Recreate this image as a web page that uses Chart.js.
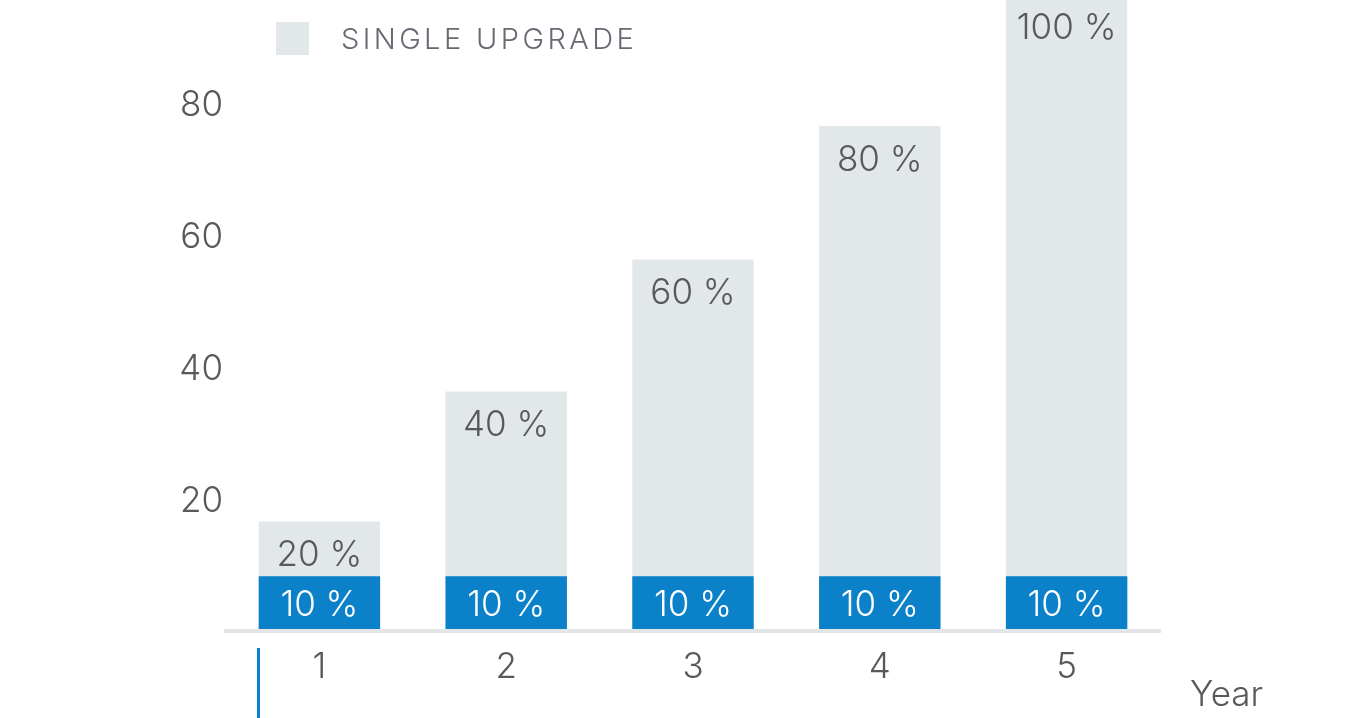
<!DOCTYPE html>
<html>
<head>
<meta charset="utf-8">
<script src="https://cdn.jsdelivr.net/npm/chart.js@4.4.1/dist/chart.umd.min.js"></script>
<style>
  html, body { margin: 0; padding: 0; background: #fff; overflow: hidden; }
  body { width: 1368px; height: 718px; position: relative; font-family: Inter, sans-serif; }
  /* canvas runs a bit above the window: the top of the last bar is cut off in the original */
  #wrap { position: absolute; left: 0; top: -60px; width: 1368px; height: 778px; }
  #legend { position: absolute; left: 276px; top: 22px; margin: 0; padding: 0; list-style: none; }
  #legend li { display: flex; align-items: center; height: 33px; }
  #legend .box { width: 33px; height: 33px; margin-right: 32px; }
  #legend .txt { font-size: 29px; font-weight: 300; letter-spacing: 3.4px; color: #666a72; }
</style>
</head>
<body>
<div id="wrap"><canvas id="myChart"></canvas></div>
<ul id="legend"></ul>
<script>
const years = ["1", "2", "3", "4", "5"];
const baseValues = [8.3, 8.3, 8.3, 8.3, 8.3];
const upgradeValues = [16.6, 36.3, 56.3, 76.5, 96.5];
const baseLabels = ["10 %", "10 %", "10 %", "10 %", "10 %"];
const upgradeLabels = ["20 %", "40 %", "60 %", "80 %", "100 %"];
const yTicks = [20, 40, 60, 80];

const BLUE = "#0a81c9";
const GREY = "#e2e7ea";
const TEXT = "#58595b";
const FONT = "Inter, sans-serif";

// labels inside the bars, the year marker and the axis title
const barText = {
    id: "barText",
    afterDatasetsDraw(chart) {
        const ctx = chart.ctx;
        ctx.save();
        ctx.font = "300 35px " + FONT;
        ctx.textAlign = "center";
        ctx.textBaseline = "middle";
        chart.data.datasets.forEach((ds, i) => {
            const meta = chart.getDatasetMeta(i);
            meta.data.forEach((bar, j) => {
                const y = ds.inside === "middle" ? (bar.y + bar.base) / 2 + 2 : bar.y + 34;
                ctx.fillStyle = ds.textColor;
                ctx.fillText(ds.valueText[j], bar.x, y);
            });
        });
        ctx.restore();
    },
    afterDraw(chart) {
        const ctx = chart.ctx;
        const area = chart.chartArea;
        const first = chart.getDatasetMeta(0).data[0];
        ctx.save();
        ctx.strokeStyle = BLUE;
        ctx.lineWidth = 3;
        ctx.beginPath();
        const x = Math.round(first.x - first.width / 2) - 0.5;
        ctx.moveTo(x, area.bottom + 17);
        ctx.lineTo(x, chart.height);
        ctx.stroke();
        ctx.font = "300 35px " + FONT;
        ctx.fillStyle = TEXT;
        ctx.textAlign = "left";
        ctx.textBaseline = "middle";
        ctx.fillText("Year", area.right + 30, area.bottom + 64);
        ctx.restore();
    }
};

const htmlLegend = {
    id: "htmlLegend",
    afterUpdate(chart) {
        const ul = document.getElementById("legend");
        ul.innerHTML = "";
        const items = chart.options.plugins.legend.labels.generateLabels(chart)
            .filter(item => item.datasetIndex === 1);
        items.forEach(item => {
            const li = document.createElement("li");
            const box = document.createElement("span");
            box.className = "box";
            box.style.background = item.fillStyle;
            const txt = document.createElement("span");
            txt.className = "txt";
            txt.textContent = item.text;
            li.appendChild(box);
            li.appendChild(txt);
            ul.appendChild(li);
        });
    }
};

const ctx = document.getElementById("myChart");

const myChart = new Chart(ctx, {
    type: "bar",
    data: {
        labels: years,
        datasets: [
            {
                label: "BASE",
                data: baseValues,
                backgroundColor: BLUE,
                order: 0,
                valueText: baseLabels,
                textColor: "#ffffff",
                inside: "middle"
            },
            {
                label: "SINGLE UPGRADE",
                data: upgradeValues,
                backgroundColor: GREY,
                order: 1,
                valueText: upgradeLabels,
                textColor: TEXT,
                inside: "top"
            }
        ]
    },
    options: {
        responsive: true,
        maintainAspectRatio: false,
        animation: false,
        datasets: {
            bar: {
                grouped: false,
                barPercentage: 0.65,
                categoryPercentage: 1,
                borderWidth: 0
            }
        },
        layout: {
            padding: { top: 31, left: 0, right: 208, bottom: 0 }
        },
        plugins: {
            legend: { display: false },
            tooltip: { enabled: false }
        },
        scales: {
            x: {
                grid: { display: false, drawTicks: false },
                border: { display: true, color: "#e3e6e8", width: 4, z: 1 },
                ticks: {
                    padding: 15,
                    color: TEXT,
                    font: { family: FONT, size: 35, weight: 300 }
                },
                afterFit(scale) { scale.height = 87; }
            },
            y: {
                min: 0,
                max: 100,
                grid: { display: false, drawTicks: false },
                border: { display: false },
                afterBuildTicks(scale) {
                    scale.ticks = yTicks.map(v => ({ value: v }));
                },
                ticks: {
                    padding: 3,
                    labelOffset: 2,
                    color: TEXT,
                    font: { family: FONT, size: 35, weight: 300 }
                },
                afterFit(scale) { scale.width = 226; }
            }
        }
    },
    plugins: [barText, htmlLegend]
});
</script>
</body>
</html>
